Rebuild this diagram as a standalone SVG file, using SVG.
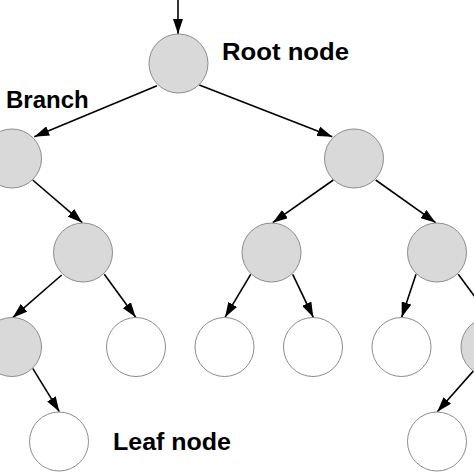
<svg xmlns="http://www.w3.org/2000/svg" width="474" height="474" viewBox="0 0 474 474">
<style>
.inner{fill:#d9d9d9;stroke:#8c8c8c;stroke-width:1}
.leaf{fill:#ffffff;stroke:#8c8c8c;stroke-width:1}
.edge{stroke:#000;stroke-width:1.6;fill:none;marker-end:url(#ah)}
.lbl{font-family:"Liberation Sans",Arial,sans-serif;font-weight:bold;font-size:24px;fill:#000}
</style>
<defs>
<marker id="ah" viewBox="0 0 15 10" refX="15" refY="5" markerWidth="15" markerHeight="10" markerUnits="userSpaceOnUse" orient="auto">
<path d="M0,0 L15,5 L0,10 z" fill="#000"/>
</marker>
</defs>
<rect width="474" height="474" fill="#fff"/>
<g id="connectors">
<line class="edge" x1="178" y1="-2" x2="178" y2="34"/>
<line class="edge" x1="157" y1="85.7" x2="34.3" y2="136.7"/>
<line class="edge" x1="199.3" y1="85" x2="332.3" y2="136.7"/>
<line class="edge" x1="32.7" y1="180" x2="82.3" y2="222.7"/>
<line class="edge" x1="333.3" y1="180" x2="272.7" y2="222.7"/>
<line class="edge" x1="375.7" y1="180" x2="435.7" y2="222.7"/>
<line class="edge" x1="61.7" y1="275" x2="12.7" y2="317.7"/>
<line class="edge" x1="104.3" y1="274.3" x2="135.7" y2="317.3"/>
<line class="edge" x1="250.7" y1="274.3" x2="225" y2="317.3"/>
<line class="edge" x1="292.7" y1="274.3" x2="313.3" y2="317.3"/>
<line class="edge" x1="416" y1="274.3" x2="401.7" y2="317.3"/>
<line class="edge" x1="458.3" y1="274.3" x2="490" y2="317.3"/>
<line class="edge" x1="32.7" y1="368.3" x2="59.3" y2="411.7"/>
<line class="edge" x1="476" y1="368" x2="437.3" y2="411.7"/>
</g>
<g id="root"><circle class="inner" cx="178.5" cy="63.5" r="29.5"/></g>
<g id="n1L"><circle class="inner" cx="12" cy="158.5" r="29.5"/></g>
<g id="n1R"><circle class="inner" cx="354" cy="158.5" r="29.5"/></g>
<g id="n2A"><circle class="inner" cx="83" cy="252.5" r="29.5"/></g>
<g id="n2B"><circle class="inner" cx="271.5" cy="252.5" r="29.5"/></g>
<g id="n2C"><circle class="inner" cx="437" cy="252.5" r="29.5"/></g>
<g id="n3A"><circle class="inner" cx="12" cy="347" r="29.5"/></g>
<g id="n3B"><circle class="leaf" cx="136" cy="347" r="29.5"/></g>
<g id="n3C"><circle class="leaf" cx="224.5" cy="347" r="29.5"/></g>
<g id="n3D"><circle class="leaf" cx="313" cy="347" r="29.5"/></g>
<g id="n3E"><circle class="leaf" cx="401.5" cy="347" r="29.5"/></g>
<g id="n3F"><circle class="inner" cx="490.5" cy="347" r="29.5"/></g>
<g id="n4A"><circle class="leaf" cx="59" cy="441.5" r="29.5"/></g>
<g id="n4B"><circle class="leaf" cx="437" cy="441.5" r="29.5"/></g>
<g id="labels">
<text class="lbl" x="222" y="60" textLength="127" lengthAdjust="spacingAndGlyphs">Root node</text>
<text class="lbl" x="6" y="108">Branch</text>
<text class="lbl" x="113" y="450" textLength="118" lengthAdjust="spacingAndGlyphs">Leaf node</text>
</g>
</svg>
